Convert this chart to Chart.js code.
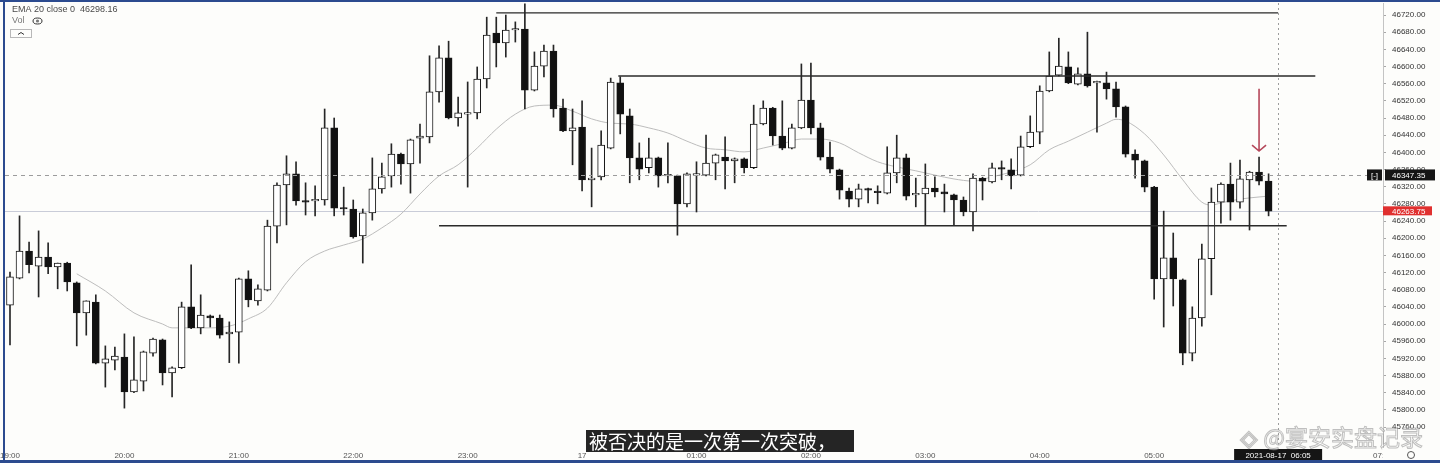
<!DOCTYPE html>
<html>
<head>
<meta charset="utf-8">
<script src="https://cdn.jsdelivr.net/npm/chart.js@4.4.1/dist/chart.umd.min.js"></script>
<style>
  html, body { margin: 0; padding: 0; background: #fdfdfb; }
  canvas { display: block; }
</style>
</head>
<body>
<canvas id="myChart" width="1440" height="463"></canvas>
<script>
// 5-minute candles, 19:00 -> 06:00
const hourLabels = ["19:00", "20:00", "21:00", "22:00", "23:00", "17", "01:00", "02:00", "03:00", "04:00", "05:00", "06:00", "07:00"];

const opens = [
  46044, 46107, 46170, 46135, 46156, 46133, 46142, 46096, 46026, 46051,
  45909, 45916, 45923, 45842, 45867, 45932, 45963, 45886, 45898, 46040,
  45991, 46019, 46014, 45977, 45981, 46105, 46054, 46079, 46228, 46324,
  46350, 46287, 46287, 46289, 46457, 46270, 46268, 46205, 46259, 46315,
  46345, 46396, 46373, 46433, 46436, 46541, 46620, 46480, 46489, 46492,
  46571, 46678, 46655, 46685, 46687, 46545, 46601, 46636, 46503, 46450,
  46459, 46336, 46343, 46410, 46562, 46485, 46387, 46364, 46387, 46345,
  46345, 46280, 46347, 46347, 46375, 46389, 46380, 46385, 46364, 46466,
  46503, 46438, 46410, 46457, 46522, 46457, 46389, 46359, 46310, 46291,
  46315, 46308, 46305, 46352, 46387, 46301, 46303, 46317, 46308, 46301,
  46289, 46261, 46340, 46331, 46364, 46359, 46347, 46413, 46447, 46543,
  46580, 46599, 46559, 46583, 46562, 46562, 46548, 46506, 46396, 46380,
  46319, 46105, 46154, 46103, 45932, 46014, 46152, 46284, 46326, 46284,
  46336, 46354, 46333
];
const highs = [
  46121, 46252, 46191, 46217, 46189, 46142, 46144, 46098, 46054, 46068,
  45949, 45946, 45977, 45970, 45937, 45967, 45965, 45900, 46051, 46138,
  46068, 46021, 46021, 46005, 46107, 46124, 46091, 46242, 46329, 46392,
  46378, 46329, 46322, 46501, 46480, 46319, 46289, 46268, 46387, 46375,
  46420, 46398, 46431, 46466, 46625, 46648, 46659, 46529, 46564, 46599,
  46715, 46715, 46720, 46704, 46746, 46634, 46650, 46650, 46524, 46501,
  46520, 46410, 46450, 46573, 46576, 46501, 46422, 46433, 46389, 46422,
  46347, 46352, 46378, 46440, 46396, 46436, 46387, 46387, 46510, 46520,
  46505, 46520, 46466, 46606, 46608, 46468, 46424, 46361, 46317, 46326,
  46317, 46322, 46413, 46440, 46396, 46340, 46373, 46343, 46326, 46303,
  46296, 46350, 46342, 46375, 46380, 46385, 46438, 46485, 46555, 46634,
  46666, 46634, 46597, 46680, 46566, 46587, 46564, 46508, 46406, 46382,
  46321, 46263, 46212, 46105, 46040, 46186, 46317, 46329, 46375, 46382,
  46356, 46389, 46350
];
const lows = [
  45951, 46105, 46119, 46063, 46117, 46082, 46077, 45949, 45974, 45907,
  45853, 45893, 45804, 45840, 45844, 45925, 45858, 45830, 45896, 45989,
  45977, 45993, 45967, 45910, 45909, 46040, 46044, 46077, 46189, 46231,
  46277, 46254, 46252, 46277, 46252, 46254, 46200, 46142, 46242, 46305,
  46319, 46326, 46305, 46375, 46422, 46517, 46478, 46461, 46319, 46478,
  46550, 46599, 46622, 46657, 46501, 46543, 46576, 46482, 46448, 46371,
  46310, 46273, 46336, 46408, 46443, 46329, 46336, 46352, 46319, 46329,
  46207, 46273, 46261, 46345, 46336, 46315, 46329, 46352, 46362, 46464,
  46417, 46406, 46408, 46455, 46443, 46382, 46352, 46291, 46273, 46273,
  46282, 46280, 46303, 46329, 46289, 46273, 46231, 46296, 46261, 46231,
  46252, 46217, 46289, 46329, 46336, 46315, 46345, 46411, 46420, 46541,
  46578, 46560, 46557, 46552, 46447, 46524, 46482, 46389, 46340, 46308,
  46058, 45993, 46042, 45905, 45914, 45995, 46068, 46235, 46242, 46270,
  46219, 46324, 46252
];
const closes = [
  46110, 46170, 46138, 46156, 46133, 46142, 46098, 46026, 46054, 45909,
  45919, 45925, 45842, 45870, 45935, 45965, 45886, 45898, 46040, 45991,
  46021, 46014, 45974, 45981, 46105, 46056, 46082, 46228, 46324, 46350,
  46287, 46284, 46289, 46457, 46270, 46268, 46203, 46259, 46315, 46343,
  46396, 46373, 46429, 46438, 46541, 46620, 46480, 46492, 46492, 46571,
  46673, 46655, 46685, 46687, 46545, 46601, 46636, 46501, 46450, 46457,
  46336, 46340, 46417, 46564, 46489, 46387, 46361, 46387, 46345, 46347,
  46280, 46350, 46350, 46375, 46394, 46380, 46385, 46364, 46466, 46503,
  46438, 46410, 46457, 46522, 46457, 46389, 46361, 46312, 46291, 46315,
  46312, 46306, 46352, 46387, 46298, 46303, 46317, 46308, 46303, 46289,
  46261, 46340, 46333, 46364, 46361, 46345, 46413, 46447, 46543, 46578,
  46601, 46562, 46583, 46555, 46564, 46548, 46506, 46396, 46382, 46319,
  46105, 46154, 46105, 45932, 46014, 46152, 46284, 46326, 46284, 46338,
  46354, 46333, 46263
];

// EMA 20 at candle positions
const emaIdx = [7, 10, 13, 16, 17, 19, 21, 23, 24, 25, 27, 29, 31, 33, 35, 37, 39, 41, 43, 45,
  47, 49, 51, 53, 55, 57, 59, 61, 63, 65, 67, 69, 71, 73, 75, 77, 79, 81, 83, 85,
  87, 89, 91, 93, 95, 97, 99, 101, 103, 105, 107, 109, 111, 113, 115, 116, 117, 119, 121, 123,
  125, 126, 127, 129, 131, 132];
const emaVals = [46117, 46077, 46026, 46000, 45991, 45991, 45991, 45995, 46002, 46012, 46037, 46096, 46145, 46170, 46184, 46198, 46224, 46256, 46303, 46345,
  46371, 46410, 46454, 46489, 46508, 46510, 46496, 46478, 46468, 46466, 46457, 46445, 46426, 46410, 46406, 46401, 46410, 46420, 46431, 46431,
  46422, 46399, 46378, 46366, 46357, 46347, 46338, 46333, 46343, 46354, 46371, 46406, 46426, 46447, 46468, 46477, 46473, 46443, 46394, 46336,
  46284, 46277, 46282, 46291, 46296, 46298];

// price axis ticks
const priceTicks = [46720, 46680, 46640, 46600, 46560, 46520, 46480, 46440, 46400, 46360, 46320, 46280, 46240,
  46200, 46160, 46120, 46080, 46040, 46000, 45960, 45920, 45880, 45840, 45800, 45760];

// drawn horizontal levels
const levelPrices = [46725, 46578, 46229];
const levelFrom = [51, 63.8, 45];
const levelTo = [133, 136.9, 133.9];

const lastPrice = 46263.75;
const crossPrice = 46347.35;
const crossIdx = 133;
const crossTime = "2021-08-17  06:05";
const arrowIdx = 131;
const arrowFrom = 46548;
const arrowTo = 46403;

Chart.defaults.font.family = "'Liberation Sans', Arial, sans-serif";

const wickData = opens.map((o, i) => ({ x: i, y: [lows[i], highs[i]] }));
const bodyData = opens.map((o, i) => ({ x: i, y: [o, closes[i]] }));
const bodyFill = opens.map((o, i) => (closes[i] >= o ? "#ffffff" : "#111111"));
const emaData = emaIdx.map((x, k) => ({ x, y: emaVals[k] }));

const levelSets = levelPrices.map((p, k) => ({
  type: "line",
  data: [{ x: levelFrom[k], y: p }, { x: levelTo[k], y: p }],
  borderColor: "#2a2a2a",
  borderWidth: 1.4,
  pointRadius: 0,
  order: -1,
}));

const overlay = {
  id: "overlay",
  beforeDraw(chart) {
    const { ctx, width, height } = chart;
    ctx.save();
    ctx.fillStyle = "#fdfdfb";
    ctx.fillRect(0, 0, width, height);
    ctx.restore();
  },
  beforeDatasetsDraw(chart) {
    const { ctx, chartArea: a, scales: { y } } = chart;
    const py = Math.round(y.getPixelForValue(lastPrice)) + 0.5;
    ctx.save();
    ctx.strokeStyle = "#c9ccd8";
    ctx.lineWidth = 1;
    ctx.beginPath();
    ctx.moveTo(a.left, py);
    ctx.lineTo(a.right, py);
    ctx.stroke();
    ctx.restore();
  },
  afterDatasetsDraw(chart) {
    const { ctx, chartArea: a, scales: { x, y }, width, height } = chart;
    ctx.save();
    // price panel background (hides the cut-off time label)
    ctx.fillStyle = "#fdfdfb";
    ctx.fillRect(a.right, 0, width - a.right, height);

    // crosshair
    ctx.strokeStyle = "#9c9c9c";
    ctx.lineWidth = 1;
    ctx.setLineDash([4, 4]);
    const cy = Math.round(y.getPixelForValue(crossPrice)) + 0.5;
    ctx.beginPath();
    ctx.moveTo(a.left, cy);
    ctx.lineTo(a.right - 16, cy);
    ctx.stroke();
    ctx.setLineDash([2, 3]);
    const cx = Math.round(x.getPixelForValue(crossIdx)) + 0.5;
    ctx.beginPath();
    ctx.moveTo(cx, a.top);
    ctx.lineTo(cx, a.bottom);
    ctx.stroke();
    ctx.setLineDash([]);

    // red arrow
    const ax = x.getPixelForValue(arrowIdx);
    const ay0 = y.getPixelForValue(arrowFrom);
    const ay1 = y.getPixelForValue(arrowTo);
    ctx.strokeStyle = "#b5485b";
    ctx.lineWidth = 1.6;
    ctx.beginPath();
    ctx.moveTo(ax, ay0);
    ctx.lineTo(ax, ay1);
    ctx.moveTo(ax - 7, ay1 - 6);
    ctx.lineTo(ax, ay1);
    ctx.lineTo(ax + 7, ay1 - 6);
    ctx.stroke();
    ctx.restore();
  },
  afterDraw(chart) {
    const { ctx, chartArea: a, scales: { x, y }, width, height } = chart;
    ctx.save();
    ctx.textBaseline = "middle";
    ctx.font = "8px 'Liberation Sans', Arial, sans-serif";

    // crosshair price label
    const cy = y.getPixelForValue(crossPrice);
    ctx.fillStyle = "#151515";
    ctx.fillRect(a.right - 16, cy - 5.5, 15, 11);
    ctx.fillRect(a.right + 2, cy - 5.5, 50, 11);
    ctx.fillStyle = "#ffffff";
    ctx.textAlign = "center";
    ctx.fillText("[-]", a.right - 8.5, cy + 0.5);
    ctx.textAlign = "left";
    ctx.fillText(crossPrice.toFixed(2), a.right + 9, cy + 0.5);

    // last price label
    const ly = y.getPixelForValue(lastPrice);
    ctx.fillStyle = "#e0302f";
    ctx.fillRect(a.right, ly - 4.5, 49, 9);
    ctx.fillStyle = "#ffffff";
    ctx.fillText(lastPrice.toFixed(2), a.right + 9, ly + 0.5);

    // legend top-left
    ctx.font = "9px 'Liberation Sans', Arial, sans-serif";
    ctx.fillStyle = "#4a4a4a";
    ctx.fillText("EMA 20 close 0  46298.16", 12, 10);
    ctx.fillStyle = "#777";
    ctx.fillText("Vol", 12, 21);
    ctx.strokeStyle = "#333";
    ctx.lineWidth = 1;
    ctx.beginPath();
    ctx.ellipse(37.5, 21, 4.5, 3, 0, 0, Math.PI * 2);
    ctx.stroke();
    ctx.beginPath();
    ctx.arc(37.5, 21, 1.6, 0, Math.PI * 2);
    ctx.fill();
    ctx.strokeStyle = "#b8b8b8";
    ctx.strokeRect(10.5, 29.5, 21, 8);
    ctx.strokeStyle = "#333";
    ctx.beginPath();
    ctx.moveTo(18, 34.5);
    ctx.lineTo(21, 32.5);
    ctx.lineTo(24, 34.5);
    ctx.stroke();

    // crosshair time label
    ctx.font = "8px 'Liberation Sans', Arial, sans-serif";
    const cx = x.getPixelForValue(crossIdx);
    ctx.fillStyle = "#151515";
    ctx.fillRect(cx - 44, a.bottom + 2, 88, 14);
    ctx.fillStyle = "#ffffff";
    ctx.textAlign = "center";
    ctx.fillText(crossTime, cx, a.bottom + 9);

    // settings glyph
    ctx.strokeStyle = "#555";
    ctx.beginPath();
    ctx.arc(1411, 455, 3.5, 0, Math.PI * 2);
    ctx.stroke();

    // subtitle
    ctx.fillStyle = "rgba(18,18,18,0.92)";
    ctx.fillRect(586, 430, 268, 22);
    ctx.fillStyle = "#ffffff";
    ctx.textAlign = "left";
    ctx.font = "19px 'Noto Sans CJK SC', sans-serif";
    ctx.fillText("被否决的是一次第一次突破，", 589, 441.5);

    // watermark
    ctx.font = "23px 'Noto Sans CJK SC', sans-serif";
    ctx.lineWidth = 1;
    ctx.strokeStyle = "rgba(130,130,130,0.5)";
    ctx.fillStyle = "rgba(255,255,255,0.45)";
    ctx.fillText("◈ @宴安实盘记录", 1240, 437);
    ctx.strokeText("◈ @宴安实盘记录", 1240, 437);

    // frame
    ctx.fillStyle = "#2c4b8f";
    ctx.fillRect(0, 0, width, 2);
    ctx.fillRect(3, 0, 2, height);
    ctx.fillRect(0, height - 3, width, 3);
    ctx.restore();
  },
};

const myChart = new Chart(document.getElementById("myChart"), {
  type: "bar",
  data: {
    datasets: [
      {
        data: bodyData,
        backgroundColor: bodyFill,
        borderColor: "#161616",
        borderWidth: 1,
        borderSkipped: false,
        barThickness: 7,
        minBarLength: 1.5,
        grouped: false,
        order: 0,
      },
      {
        data: wickData,
        backgroundColor: "#262626",
        barThickness: 1,
        grouped: false,
        order: 1,
      },
      {
        type: "line",
        data: emaData,
        borderColor: "#bdbdbd",
        borderWidth: 1,
        pointRadius: 0,
        cubicInterpolationMode: "monotone",
        order: 3,
      },
      ...levelSets,
    ],
  },
  options: {
    responsive: false,
    animation: false,
    layout: { padding: { left: 5, top: 3, right: 0, bottom: 0 } },
    plugins: { legend: { display: false }, tooltip: { enabled: false } },
    scales: {
      x: {
        type: "linear",
        offset: false,
        min: -0.524,
        max: 144,
        afterBuildTicks: (s) => {
          s.ticks = hourLabels.map((_, k) => ({ value: k * 12 }));
        },
        ticks: {
          autoSkip: false,
          maxRotation: 0,
          padding: 4,
          color: "#555",
          font: { size: 8 },
          callback: (v) => hourLabels[Math.round(v / 12)] ?? "",
        },
        grid: { display: false, drawTicks: false, offset: false },
        border: { display: false },
        afterFit: (s) => {
          s.height = 16;
          s.paddingLeft = 0;
          s.paddingRight = 0;
        },
      },
      y: {
        position: "right",
        min: 45713.4,
        max: 46748,
        afterBuildTicks: (s) => {
          s.ticks = priceTicks.map((v) => ({ value: v }));
        },
        ticks: {
          z: 1,
          padding: 6,
          color: "#333",
          font: { size: 8 },
          callback: (v) => Number(v).toFixed(2),
        },
        grid: { z: 1, drawOnChartArea: false, tickLength: 3, color: "#a8a8a8" },
        border: { z: 1, color: "#c4c4c4" },
        afterFit: (s) => {
          s.width = 57;
          s.paddingTop = 0;
          s.paddingBottom = 0;
        },
      },
    },
  },
  plugins: [overlay],
});
</script>
</body>
</html>
